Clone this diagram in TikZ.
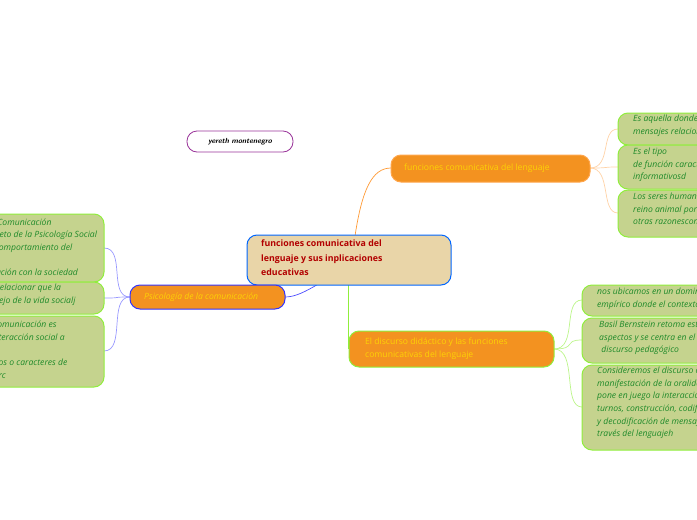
\documentclass[tikz,border=0pt]{standalone}
\usepackage{fontspec}
\setmainfont{Open Sans}
\begin{document}
\begin{tikzpicture}[x=1pt,y=-1pt,
 box/.style={rounded corners=10pt,line width=1pt},
 gtxt/.style={anchor=north west,align=left,inner sep=0pt,font=\fontsize{8.6}{12.6}\selectfont\itshape},
 otxt/.style={anchor=west,align=left,inner sep=0pt,font=\fontsize{8.6}{12.6}\selectfont,text=yellow!70!orange},
 con/.style={line width=0.7pt}]
\definecolor{gfill}{HTML}{C5D38E}
\definecolor{gdraw}{HTML}{90EE3C}
\definecolor{ofill}{HTML}{F39220}
\definecolor{gtext}{HTML}{1F8A2A}
\definecolor{tan}{HTML}{E9D5A8}
\useasboundingbox (0,0) rectangle (697,520);
\clip (0,0) rectangle (697,520);
\tikzset{gbox/.style={box,draw=gdraw,fill=gfill},gtxt/.append style={text=gtext}}
% connectors
\coordinate (cT) at (355,236); \coordinate (cL) at (320,283); \coordinate (cB) at (348,285);
\draw[con,orange!80] (cT) .. controls (362,190) and (372,168) .. (391,168);
\draw[con,blue!70] (cL) .. controls (305,292) and (295,297) .. (285,297);
\draw[con,gdraw] (cB) -- (348,349);
\foreach \y in {129,167,213}{\draw[con,orange!35] (590,168) .. controls (612,168) and (600,\y) .. (618,\y);}
\foreach \y in {248,298,351}{\draw[con,blue!40] (130,297) .. controls (108,297) and (126,\y) .. (104,\y);}
\foreach \y in {300,340,407}{\draw[con,gdraw!60] (554,349) .. controls (578,349) and (562,\y) .. (582,\y);}
% nodes
\draw[box,draw=violet!80,line width=0.8pt,fill=white] (187,131) rectangle (293,152);
\node[font=\fontsize{7.4}{9}\selectfont\bfseries\itshape\sffamily] (yer) at (240,141.5) {yereth montenegro};
\draw[box,draw=blue!60!cyan,fill=tan] (247,235) rectangle (451,285);
\node[anchor=north west,align=left,inner sep=0pt,font=\fontsize{8.8}{14.5}\selectfont\bfseries,text=red!70!black] (c) at (261,240) {funciones comunicativa del\\lenguaje y sus inplicaciones\\educativas};
\draw[box,draw=orange!70,fill=ofill] (391,155) rectangle (590,182);
\node[otxt] (f) at (404,168.5) {funciones comunicativa del lenguaje};
\draw[box,draw=blue!80,fill=ofill] (130,285) rectangle (285,309);
\node[otxt,font=\fontsize{8.6}{12.6}\selectfont\itshape] (p) at (144,297) {Psicología de la comunicación};
\draw[box,draw=gdraw,fill=ofill] (349,331) rectangle (554,367);
\node[otxt] (d) at (365,349) {El discurso didáctico y las funciones\\comunicativas del lenguaje};
% right green boxes 1
\draw[gbox] (618,113) rectangle (770,145);
\node[gtxt] (r1) at (633,115) {Es aquella donde\\mensajes relacionados};
\draw[gbox] (618,145) rectangle (770,189);
\node[gtxt] (r2) at (633,148) {Es el tipo\\de función característica\\informativosd};
\draw[gbox] (618,190) rectangle (770,237);
\node[gtxt] (r3) at (633,193) {Los seres humanos\\reino animal por\\otras razonescon};
% left green boxes
\draw[gbox] (-80,214) rectangle (104,282);
\node[gtxt,anchor=north west] (l1) at (-14,218.5) {La Comunicación\\Objeto de la Psicología Social\\el comportamiento del\\\\relación con la sociedad};
\draw[gbox] (-80,282) rectangle (104,314);
\node[gtxt] (l2) at (-14,284) {Es relacionar que la\\espejo de la vida socialj};
\draw[gbox] (-80,316) rectangle (104,387);
\node[gtxt] (l3) at (-18,321) {La comunicación es\\la interacción social a\\\\rasgos o caracteres de\\hiperc};
% right green boxes 2
\draw[gbox] (582,285) rectangle (760,316);
\node[gtxt] (s1) at (597,288) {nos ubicamos en un dominio\\empírico donde el contexto};
\draw[gbox] (582,318) rectangle (760,363);
\node[gtxt] (s2) at (599,321) {Basil Bernstein retoma estos\\aspectos y se centra en el\\\ discurso pedagógico};
\draw[gbox] (582,365) rectangle (760,450);
\node[gtxt] (s3) at (597,367) {Consideremos el discurso como\\manifestación de la oralidad\\pone en juego la interacción\\turnos, construcción, codificación\\y decodificación de mensajes a\\través del lenguajeh};
\end{tikzpicture}
\end{document}
